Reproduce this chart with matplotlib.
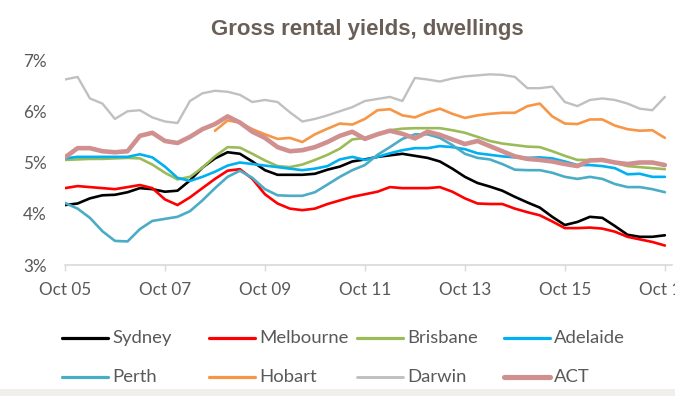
#!/usr/bin/env python3
"""Gross rental yields, dwellings -- eight capital-city series, quarterly, Oct 05 to Oct 17."""
import numpy as np
import pandas as pd
import matplotlib
matplotlib.use("Agg")
import matplotlib.pyplot as plt
import matplotlib.dates as mdates
from matplotlib.lines import Line2D

# quarterly observations, Oct 2005 .. Oct 2017 (49 points), gross yield in %
dates = pd.date_range("2005-10-01", periods=49, freq="3MS")
tick_dates = pd.date_range("2005-10-01", "2017-10-01", freq="24MS")

sydney = [4.17, 4.20, 4.30, 4.36, 4.37, 4.42, 4.50, 4.48, 4.43, 4.45,
          4.65, 4.90, 5.08, 5.20, 5.17, 5.02, 4.85, 4.76, 4.76, 4.76,
          4.78, 4.86, 4.92, 5.02, 5.06, 5.11, 5.14, 5.17, 5.13, 5.09,
          5.02, 4.88, 4.72, 4.60, 4.53, 4.45, 4.33, 4.22, 4.12, 3.94,
          3.78, 3.84, 3.94, 3.92, 3.76, 3.59, 3.55, 3.55, 3.58]
melbourne = [4.50, 4.54, 4.52, 4.50, 4.48, 4.52, 4.56, 4.50, 4.28, 4.17,
             4.32, 4.50, 4.68, 4.84, 4.87, 4.68, 4.38, 4.20, 4.10, 4.07,
             4.10, 4.19, 4.26, 4.33, 4.38, 4.43, 4.52, 4.50, 4.50, 4.50,
             4.52, 4.43, 4.30, 4.20, 4.19, 4.19, 4.10, 4.03, 3.97, 3.85,
             3.72, 3.72, 3.73, 3.71, 3.65, 3.55, 3.50, 3.45, 3.38]
brisbane = [5.05, 5.06, 5.07, 5.07, 5.08, 5.09, 5.08, 4.96, 4.80, 4.67,
            4.72, 4.90, 5.12, 5.30, 5.29, 5.17, 5.04, 4.93, 4.91, 4.96,
            5.05, 5.15, 5.27, 5.45, 5.48, 5.56, 5.63, 5.66, 5.67, 5.67,
            5.67, 5.63, 5.58, 5.50, 5.42, 5.37, 5.34, 5.31, 5.30, 5.22,
            5.13, 5.05, 5.05, 5.04, 4.99, 4.93, 4.91, 4.89, 4.87]
adelaide = [5.08, 5.11, 5.11, 5.11, 5.11, 5.11, 5.16, 5.10, 4.92, 4.70,
            4.64, 4.72, 4.82, 4.94, 5.00, 4.97, 4.94, 4.91, 4.88, 4.85,
            4.88, 4.93, 5.06, 5.11, 5.05, 5.11, 5.18, 5.24, 5.28, 5.28,
            5.32, 5.30, 5.26, 5.18, 5.15, 5.12, 5.10, 5.09, 5.10, 5.08,
            5.02, 4.95, 4.95, 4.93, 4.89, 4.77, 4.78, 4.72, 4.72]
perth = [4.21, 4.10, 3.92, 3.66, 3.47, 3.46, 3.70, 3.86, 3.90, 3.94,
         4.05, 4.26, 4.50, 4.72, 4.84, 4.70, 4.48, 4.36, 4.35, 4.35,
         4.42, 4.57, 4.72, 4.85, 4.95, 5.15, 5.30, 5.46, 5.55, 5.55,
         5.48, 5.34, 5.17, 5.09, 5.06, 4.97, 4.86, 4.85, 4.85, 4.80,
         4.72, 4.68, 4.72, 4.68, 4.58, 4.52, 4.52, 4.48, 4.42]
hobart = [np.nan] * 12 + [
          5.62, 5.82, 5.78, 5.65, 5.55, 5.46, 5.48, 5.40,
          5.55, 5.66, 5.76, 5.74, 5.85, 6.02, 6.04, 5.92, 5.88, 5.98,
          6.05, 5.95, 5.87, 5.92, 5.95, 5.97, 5.97, 6.10, 6.15, 5.90,
          5.76, 5.75, 5.84, 5.84, 5.72, 5.65, 5.62, 5.63, 5.48]
darwin = [6.62, 6.67, 6.25, 6.15, 5.85, 6.00, 6.02, 5.88, 5.80, 5.77,
          6.20, 6.35, 6.40, 6.38, 6.32, 6.18, 6.22, 6.18, 5.98, 5.80,
          5.85, 5.92, 6.00, 6.08, 6.20, 6.24, 6.28, 6.20, 6.65, 6.62,
          6.58, 6.64, 6.68, 6.70, 6.72, 6.71, 6.67, 6.45, 6.45, 6.48,
          6.18, 6.10, 6.22, 6.25, 6.22, 6.15, 6.05, 6.02, 6.28]
act = [5.10, 5.28, 5.28, 5.22, 5.20, 5.22, 5.52, 5.58, 5.42, 5.38,
       5.50, 5.65, 5.75, 5.90, 5.78, 5.60, 5.48, 5.30, 5.22, 5.24,
       5.30, 5.40, 5.52, 5.60, 5.46, 5.55, 5.62, 5.56, 5.47, 5.60,
       5.54, 5.45, 5.36, 5.42, 5.32, 5.22, 5.12, 5.07, 5.05, 5.02,
       4.97, 4.93, 5.04, 5.05, 5.00, 4.97, 5.00, 5.00, 4.95]

names = ["Sydney", "Melbourne", "Brisbane", "Adelaide",
         "Perth", "Hobart", "Darwin", "ACT"]
series = [sydney, melbourne, brisbane, adelaide, perth, hobart, darwin, act]

# palette (Excel-ish)
COLORS = ["#000000", "#ff0000", "#9bbb59", "#00b0f0",
          "#4bacc6", "#f79646", "#c0c0c0", "#d09090"]
WIDTHS = [1.9, 1.9, 1.9, 1.9, 1.9, 1.9, 1.7, 3.3]
TXT, AXC = "#595959", "#d9d9d9"
TITLE_C = "#6a5f57"
FONT = "Lato"

W, H = 675, 396
fig = plt.figure(figsize=(W / 100, H / 100), dpi=100)
fig.patch.set_facecolor("white")
# plot area in pixels: x 65..672, y 60 (7%) .. 265 (3%)
ax = fig.add_axes([65 / W, (H - 265) / H, 607 / W, 205 / H])

for s, c, lw in zip(series, COLORS, WIDTHS):
    ax.plot(dates, s, color=c, lw=lw, solid_capstyle="round",
            solid_joinstyle="round")

ax.set_ylim(3, 7)
ax.set_yticks([3, 4, 5, 6, 7])
ax.yaxis.set_major_formatter(lambda v, p: f"{v:.0f}%")
ax.set_xlim(pd.Timestamp("2005-10-01"), pd.Timestamp("2017-11-22"))
ax.set_xticks(tick_dates)
ax.xaxis.set_major_formatter(mdates.DateFormatter("%b %y"))

for sp in ("top", "right", "left"):
    ax.spines[sp].set_visible(False)
ax.spines["bottom"].set_color(AXC)
ax.spines["bottom"].set_linewidth(1.2)
ax.tick_params(axis="y", length=0, pad=13, labelsize=12.3, labelcolor=TXT)
ax.tick_params(axis="x", length=4, width=1, color=AXC, direction="out",
               pad=8, labelsize=12.3, labelcolor=TXT)
for lab in ax.get_xticklabels() + ax.get_yticklabels():
    lab.set_family(FONT)

fig.text(367 / W, 1 - 29 / H, "Gross rental yields, dwellings",
         ha="center", va="center", fontsize=16, fontweight="bold",
         color=TITLE_C, family="Liberation Sans")

# legend laid out like the spreadsheet original: 4 fixed-width columns
col_x = [62, 209, 357, 504]
row_y = [338, 377]
for i, (name, c, lw) in enumerate(zip(names, COLORS, WIDTHS)):
    x0, y0 = col_x[i % 4], row_y[i // 4]
    fig.add_artist(Line2D([x0 / W, (x0 + 46) / W], [1 - y0 / H, 1 - y0 / H],
                          color=c, lw=lw + 0.4, solid_capstyle="round"))
    fig.text((x0 + 50) / W, 1 - y0 / H, name, ha="left", va="center",
             fontsize=13.3, color=TXT, family=FONT)

# pale band along the bottom edge
fig.add_artist(plt.Rectangle((0, 0), 1, 7 / H, transform=fig.transFigure,
                             fc="#f0efeb", ec="none"))

fig.savefig("out.png", dpi=100)
